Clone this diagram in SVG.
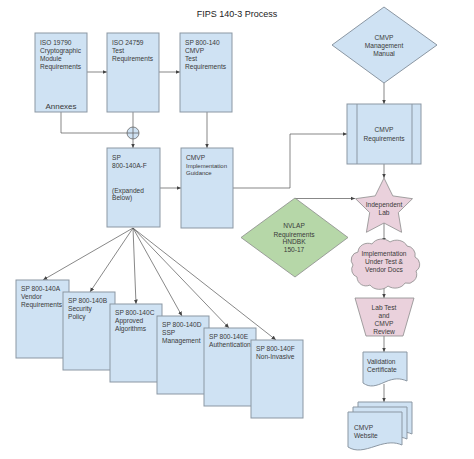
<svg xmlns="http://www.w3.org/2000/svg" width="474" height="459" viewBox="0 0 474 459">
<defs>
<marker id="ah" markerUnits="userSpaceOnUse" markerWidth="5" markerHeight="5" refX="4.5" refY="2.5" orient="auto">
<path d="M0,0.5 L4.5,2.5 L0,4.5 Z" fill="#444"/>
</marker>
</defs>
<style>
text{font-family:"Liberation Sans",Arial,sans-serif;font-size:6.6px;fill:#3a3a3a}
.t{font-size:9px;fill:#222}
.s{font-size:6px}
.big{font-size:8px}
.m{text-anchor:middle}
.b{fill:#cfe2f3;stroke:#8b97a3;stroke-width:1}
.p{fill:#ead1dc;stroke:#8b8b8b;stroke-width:0.8}
.g{fill:#b6d7a8;stroke:#8b8b8b;stroke-width:0.8}
.c{fill:none;stroke:#555;stroke-width:0.7}
.a{marker-end:url(#ah)}
</style>
<rect width="474" height="459" fill="#fff"/>
<text class="t" x="237" y="17" text-anchor="middle">FIPS 140-3 Process</text>

<g id="connectors">
<path class="c a" d="M87,72 H107"/>
<path class="c a" d="M159,72 H180"/>
<path class="c" d="M61,112 V133 H127"/>
<path class="c" d="M133,112 V127"/>
<path class="c a" d="M133,139 V148"/>
<path class="c a" d="M207,112 V148"/>
<path class="c a" d="M160,188 H181"/>
<path class="c a" d="M233,188 H290 V134 H347"/>
<path class="c a" d="M384,83 V104"/>
<path class="c a" d="M384,164 V178"/>
<path class="c a" d="M295,198.5 H355"/>
<path class="c a" d="M384,223 V242"/>
<path class="c a" d="M384,287 V298"/>
<path class="c a" d="M384,336 V352"/>
<path class="c a" d="M384,384 V402"/>
<path class="c a" d="M133,228 L43,280"/>
<path class="c a" d="M133,228 L90,292"/>
<path class="c a" d="M133,228 L136,304"/>
<path class="c a" d="M133,228 L182,316"/>
<path class="c a" d="M133,228 L229,328"/>
<path class="c a" d="M133,228 L276,340"/>
</g>

<g id="sum">
<circle cx="133" cy="133" r="6" fill="#cfe2f3" stroke="#666" stroke-width="0.8"/>
<path d="M127,133 H139 M133,127 V139" stroke="#666" stroke-width="0.8"/>
</g>

<g id="iso19790">
<rect class="b" x="35" y="33" width="52" height="79"/>
<text x="40" y="45">ISO 19790</text>
<text x="40" y="53">Cryptographic</text>
<text x="40" y="61">Module</text>
<text x="40" y="69">Requirements</text>
<text class="big m" x="61" y="109">Annexes</text>
</g>
<g id="iso24759">
<rect class="b" x="107" y="33" width="52" height="79"/>
<text x="112" y="45">ISO 24759</text>
<text x="112" y="53">Test</text>
<text x="112" y="61">Requirements</text>
</g>
<g id="sp800140">
<rect class="b" x="180" y="33" width="52" height="79"/>
<text x="185" y="45">SP 800-140</text>
<text x="185" y="53">CMVP</text>
<text x="185" y="61">Test</text>
<text x="185" y="69">Requirements</text>
</g>
<g id="sp800140af">
<rect class="b" x="107" y="148" width="53" height="79"/>
<text x="112" y="160">SP</text>
<text x="112" y="168">800-140A-F</text>
<text x="112" y="192.5">(Expanded</text>
<text x="112" y="200">Below)</text>
</g>
<g id="cmvpig">
<rect class="b" x="181" y="148" width="52" height="80"/>
<text x="186" y="160">CMVP</text>
<text class="s" x="186" y="168">Implementation</text>
<text class="s" x="186" y="175">Guidance</text>
</g>
<g id="mgmtmanual">
<path class="b" d="M384,7 L437,45 L384,83 L332,45 Z"/>
<text class="m" x="384" y="39.5">CMVP</text>
<text class="m" x="384" y="48">Management</text>
<text class="m" x="384" y="56">Manual</text>
</g>
<g id="cmvpreq">
<rect class="b" x="347" y="104" width="74" height="60"/>
<path d="M357,104 V164 M412,104 V164" stroke="#8b97a3" stroke-width="1"/>
<text class="m" x="384" y="132">CMVP</text>
<text class="m" x="384" y="140.5">Requirements</text>
</g>
<g id="lab">
<path class="p" d="M384,178 L392.8,195.9 L412.5,198.7 L398.3,212.6 L401.6,232.3 L384,223 L366.4,232.3 L369.7,212.6 L355.5,198.7 L375.2,195.9 Z"/>
<text class="m" x="384" y="206.5">Independent</text>
<text class="m" x="384" y="214.5">Lab</text>
</g>
<g id="nvlap">
<path class="g" d="M295,198 L348,237.5 L295,277 L241,237.5 Z"/>
<text class="m" x="294" y="228">NVLAP</text>
<text class="m" x="294" y="236.5">Requirements</text>
<text class="m" x="294" y="244">HNDBK</text>
<text class="m" x="294" y="252">150-17</text>
</g>
<g id="iut">
<path class="p" d="M358,252 a10,9 0 0 1 14,-8 a11,9 0 0 1 18,-2 a11,9 0 0 1 17,4 a9,9 0 0 1 8,11 a8,8 0 0 1 1,14 a9,9 0 0 1 -11,12 a11,9 0 0 1 -17,3 a11,9 0 0 1 -18,-1 a9,9 0 0 1 -13,-8 a8,8 0 0 1 -4,-12 a8,8 0 0 1 5,-13 Z"/>
<text class="m" x="384" y="255.7">Implementation</text>
<text class="m" x="384" y="263.5">Under Test &amp;</text>
<text class="m" x="384" y="271.5">Vendor Docs</text>
</g>
<g id="review">
<path class="p" d="M355,298 H414 L403,336 H366 Z"/>
<text class="m" x="384" y="309.7">Lab Test</text>
<text class="m" x="384" y="317.7">and</text>
<text class="m" x="384" y="326">CMVP</text>
<text class="m" x="384" y="333.7">Review</text>
</g>
<g id="certificate">
<path class="b" d="M363,352 H407 V381 C400,378 394,378 385,382 S370,388 363,383 Z"/>
<text x="367" y="364">Validation</text>
<text x="367" y="371.7">Certificate</text>
</g>
<g id="website">
<path class="b" d="M358,402 H412 V434 C405,431 398,431 386,435 S366,441 358,436 Z"/>
<path class="b" d="M353,407 H407 V439 C400,436 393,436 381,440 S361,446 353,441 Z"/>
<path class="b" d="M348,412 H402 V445 C395,442 388,442 376,446 S356,452 348,447 Z"/>
<text x="354" y="429.7">CMVP</text>
<text x="354" y="437.7">Website</text>
</g>

<g id="sp800140a">
<rect class="b" x="16" y="280" width="53" height="78"/>
<text x="21" y="291.3">SP 800-140A</text>
<text x="21" y="299.3">Vendor</text>
<text x="21" y="307.3">Requirements</text>
</g>
<g id="sp800140b">
<rect class="b" x="63" y="292" width="52" height="78"/>
<text x="68" y="303.3">SP 800-140B</text>
<text x="68" y="311.3">Security</text>
<text x="68" y="319.3">Policy</text>
</g>
<g id="sp800140c">
<rect class="b" x="110" y="304" width="52" height="78"/>
<text x="115" y="315.3">SP 800-140C</text>
<text x="115" y="323.3">Approved</text>
<text x="115" y="331.3">Algorithms</text>
</g>
<g id="sp800140d">
<rect class="b" x="157" y="316" width="52" height="78"/>
<text x="162" y="327.3">SP 800-140D</text>
<text x="162" y="335.3">SSP</text>
<text x="162" y="343.3">Management</text>
</g>
<g id="sp800140e">
<rect class="b" x="204" y="328" width="52" height="78"/>
<text x="209" y="339.3">SP 800-140E</text>
<text x="209" y="347.3">Authentication</text>
</g>
<g id="sp800140f">
<rect class="b" x="251" y="340" width="52" height="78"/>
<text x="256" y="351.3">SP 800-140F</text>
<text x="256" y="359.3">Non-Invasive</text>
</g>
</svg>
